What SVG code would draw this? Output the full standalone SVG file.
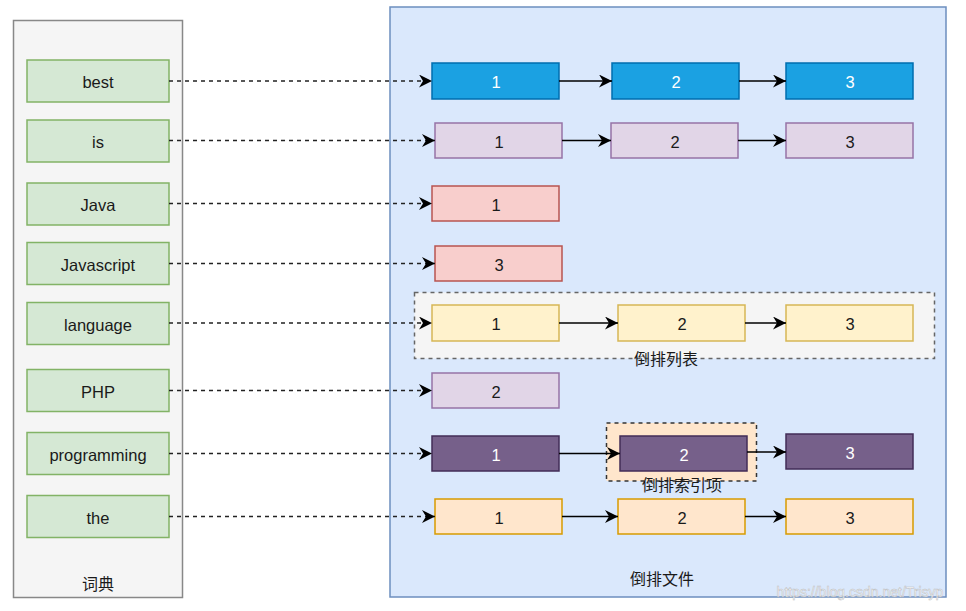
<svg xmlns="http://www.w3.org/2000/svg" width="966" height="611" viewBox="0 0 966 611">
<defs>
<style>
text{font-family:"Liberation Sans",Arial,"Noto Sans CJK SC",sans-serif;font-size:16.5px;text-anchor:middle;fill:#1a1a1a}
.cn{font-size:16px}
.word{fill:#d5e8d4;stroke:#82b366;stroke-width:1.5}
.blue{fill:#1ba1e2;stroke:#006eaf;stroke-width:1.5}
.lp{fill:#e1d5e7;stroke:#9673a6;stroke-width:1.5}
.red{fill:#f8cecc;stroke:#b85450;stroke-width:1.5}
.yel{fill:#fff2cc;stroke:#d6b656;stroke-width:1.5}
.dp{fill:#76608a;stroke:#432d57;stroke-width:1.5}
.org{fill:#ffe6cc;stroke:#d79b00;stroke-width:1.5}
.w{fill:#ffffff}
.dash{fill:none;stroke:#222;stroke-width:1.6;stroke-dasharray:4 4;marker-end:url(#arr)}
.solid{fill:none;stroke:#000;stroke-width:1.6;marker-end:url(#arr)}
</style>
<marker id="arr" markerUnits="userSpaceOnUse" markerWidth="14" markerHeight="13" refX="13" refY="6.5" orient="auto">
<path d="M0,0 L13,6.5 L0,13 L4,6.5 z" fill="#000"/>
</marker>
</defs>

<g id="dict">
<rect x="13.5" y="20.5" width="169" height="577" fill="#f5f5f5" stroke="#888" stroke-width="1.5"/>
<text class="cn" x="98" y="590">词典</text>
</g>

<g id="inverted-file">
<rect x="390" y="7" width="556" height="590" fill="#dae8fc" stroke="#6c8ebf" stroke-width="1.5"/>
<text class="cn" x="662" y="585">倒排文件</text>
</g>

<g id="w-best"><rect class="word" x="27" y="60" width="142" height="42"/><text x="98" y="88">best</text></g>
<g id="w-is"><rect class="word" x="27" y="120" width="142" height="42"/><text x="98" y="148">is</text></g>
<g id="w-java"><rect class="word" x="27" y="183" width="142" height="42"/><text x="98" y="211">Java</text></g>
<g id="w-javascript"><rect class="word" x="27" y="242.5" width="142" height="42"/><text x="98" y="270.5">Javascript</text></g>
<g id="w-language"><rect class="word" x="27" y="302.5" width="142" height="42"/><text x="98" y="330.5">language</text></g>
<g id="w-php"><rect class="word" x="27" y="369.5" width="142" height="42"/><text x="98" y="397.5">PHP</text></g>
<g id="w-programming"><rect class="word" x="27" y="432.5" width="142" height="42"/><text x="98" y="460.5">programming</text></g>
<g id="w-the"><rect class="word" x="27" y="495.5" width="142" height="42"/><text x="98" y="523.5">the</text></g>

<g id="list-group">
<rect x="414.5" y="292.5" width="520" height="66" fill="#f5f5f5" stroke="#666" stroke-width="1.5" stroke-dasharray="4 4"/>
<text class="cn" x="666" y="365">倒排列表</text>
</g>

<g id="item-group">
<rect x="606.5" y="423" width="150" height="58" fill="#ffe6cc" stroke="#333" stroke-width="1.5" stroke-dasharray="4 4"/>
</g>

<g id="best-1"><rect class="blue" x="432" y="63" width="127" height="36"/><text class="w" x="496" y="88">1</text></g>
<g id="best-2"><rect class="blue" x="612" y="63" width="127" height="36"/><text class="w" x="676" y="88">2</text></g>
<g id="best-3"><rect class="blue" x="786" y="63" width="127" height="36"/><text class="w" x="850" y="88">3</text></g>

<g id="is-1"><rect class="lp" x="435" y="123" width="127" height="35"/><text x="499" y="147.5">1</text></g>
<g id="is-2"><rect class="lp" x="611" y="123" width="127" height="35"/><text x="675" y="147.5">2</text></g>
<g id="is-3"><rect class="lp" x="786" y="123" width="127" height="35"/><text x="850" y="147.5">3</text></g>

<g id="java-1"><rect class="red" x="432" y="186" width="127" height="35"/><text x="496" y="210.5">1</text></g>

<g id="javascript-3"><rect class="red" x="435" y="246" width="127" height="35"/><text x="499" y="270.5">3</text></g>

<g id="language-1"><rect class="yel" x="432" y="305" width="127" height="36"/><text x="496" y="330">1</text></g>
<g id="language-2"><rect class="yel" x="618" y="305" width="127" height="36"/><text x="682" y="330">2</text></g>
<g id="language-3"><rect class="yel" x="786" y="305" width="127" height="36"/><text x="850" y="330">3</text></g>

<g id="php-2"><rect class="lp" x="432" y="373" width="127" height="35"/><text x="496" y="397.5">2</text></g>

<g id="programming-1"><rect class="dp" x="432" y="436" width="127" height="35"/><text class="w" x="496" y="460.5">1</text></g>
<g id="programming-2"><rect class="dp" x="620" y="436" width="127" height="35"/><text class="w" x="684" y="460.5">2</text></g>
<g id="programming-3"><rect class="dp" x="786" y="434" width="127" height="35"/><text class="w" x="850" y="458.5">3</text></g>
<text class="cn" x="682" y="491">倒排索引项</text>

<g id="the-1"><rect class="org" x="435" y="499" width="127" height="35"/><text x="499" y="523.5">1</text></g>
<g id="the-2"><rect class="org" x="618" y="499" width="127" height="35"/><text x="682" y="523.5">2</text></g>
<g id="the-3"><rect class="org" x="786" y="499" width="127" height="35"/><text x="850" y="523.5">3</text></g>

<g id="connectors">
<path class="dash" d="M169,81 H432"/>
<path class="dash" d="M169,140.5 H435"/>
<path class="dash" d="M169,203.5 H432"/>
<path class="dash" d="M169,263.5 H435"/>
<path class="dash" d="M169,323 H432"/>
<path class="dash" d="M169,390.5 H432"/>
<path class="dash" d="M169,453.5 H432"/>
<path class="dash" d="M169,516.5 H435"/>
<path class="solid" d="M559,81 H612"/>
<path class="solid" d="M739,81 H786"/>
<path class="solid" d="M562,140.5 H611"/>
<path class="solid" d="M738,140.5 H786"/>
<path class="solid" d="M559,323 H618"/>
<path class="solid" d="M745,323 H786"/>
<path class="solid" d="M559,453.5 H620"/>
<path class="solid" d="M747,452 H786"/>
<path class="solid" d="M562,516.5 H618"/>
<path class="solid" d="M745,516.5 H786"/>
</g>

<text x="860" y="597" style="font-size:14px;fill:#ffffff;stroke:#b8b8b8;stroke-width:0.5;opacity:0.9">https://blog.csdn.net/Trisyp</text>
</svg>
